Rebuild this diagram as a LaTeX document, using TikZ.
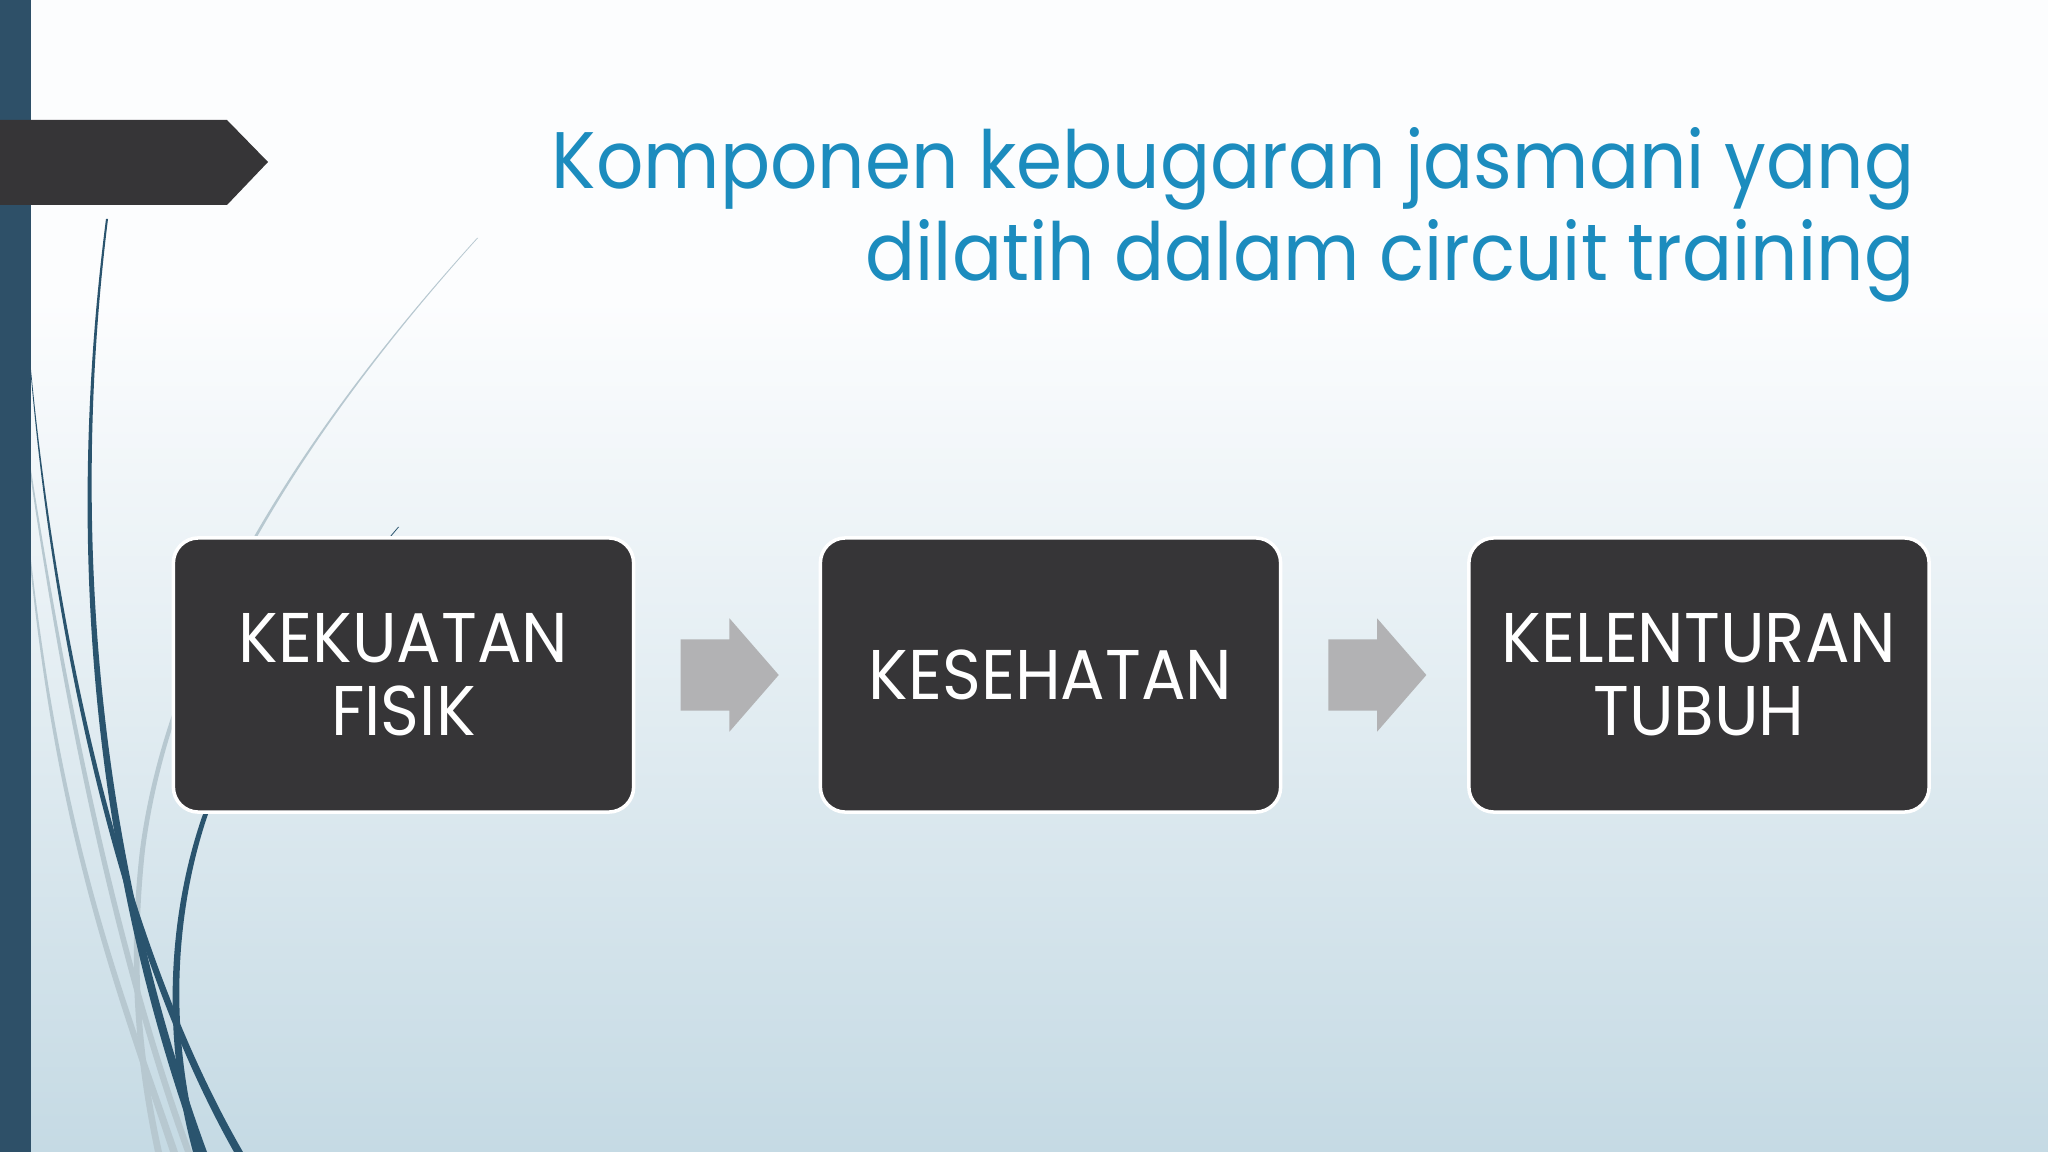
\documentclass[tikz,border=0pt]{standalone}
\usepackage{fontspec}
\setmainfont{Poppins}
\newfontfamily\titlefont{Poppins}[FakeStretch=0.925]
\newfontfamily\boxfont{Poppins}[FakeStretch=0.94]
\usetikzlibrary{shapes.arrows,calc}

\definecolor{bgtop}{RGB}{252,253,254}
\definecolor{bgmid}{RGB}{221,233,239}
\definecolor{bgbottom}{RGB}{197,218,228}
\definecolor{slidebar}{RGB}{46,80,104}
\definecolor{wispdark}{RGB}{42,84,110}
\definecolor{wisplight}{RGB}{183,200,208}
\definecolor{boxgray}{RGB}{54,53,55}
\definecolor{arrowgray}{RGB}{178,178,180}
\definecolor{titleblue}{RGB}{28,140,190}

\begin{document}
\begin{tikzpicture}[x=0.01cm,y=-0.01cm]
    \tikzstyle{stepbox}=[rectangle, rounded corners=0.25cm, fill=boxgray, draw=white, line width=1pt, minimum width=4.6cm, minimum height=2.74cm, text=white, align=center, font=\boxfont\fontsize{20}{20.8}\selectfont]
    \tikzstyle{flow}=[single arrow, fill=arrowgray, inner xsep=0pt, inner ysep=0.35cm, minimum height=0.98cm, single arrow head extend=0.21cm, single arrow tip angle=98]
    \tikzstyle{heading}=[anchor=base east, inner sep=0pt, text=titleblue, font=\titlefont\fontsize{22.8}{26}\selectfont]

    \useasboundingbox (0,0) rectangle (2048,1152);
    \fill[bgtop] (0,0) rectangle (2048,300);
    \shade[top color=bgtop, middle color=bgmid, bottom color=bgbottom] (0,300) rectangle (2048,1152);

    \tikzstyle{wisp}=[fill=wisplight]
    \fill[wisp] (477,238) .. controls (330,400) and (170,620) .. (140,850) .. controls (125,980) and (140,1080) .. (155,1152) -- (162,1152) .. controls (146,1080) and (131,980) .. (145,850) .. controls (174,620) and (332,400) .. (478,238) -- cycle;
    \fill[wisp] (31,573) .. controls (60,850) and (120,1000) .. (170,1152) -- (178,1152) .. controls (126,1000) and (64,850) .. (31,560) -- cycle;
    \fill[wisp] (31,480) .. controls (75,780) and (130,1000) .. (185,1152) -- (192,1152) .. controls (136,1000) and (80,780) .. (31,470) -- cycle;

    \tikzstyle{wisp}=[fill=wispdark]
    \fill[wisp] (31,377) .. controls (55,650) and (120,950) .. (234,1152) -- (243,1152) .. controls (126,950) and (58,650) .. (31,370) -- cycle;
    \fill[wisp] (106,219) .. controls (75,460) and (70,800) .. (198,1152) -- (207,1152) .. controls (78,800) and (78,460) .. (108,219) -- cycle;
    \fill[wisp] (398,527) .. controls (310,630) and (232,740) .. (202,817) .. controls (170,910) and (160,1030) .. (193,1152) -- (201,1152) .. controls (167,1030) and (176,910) .. (207,817) .. controls (236,740) and (312,630) .. (399,527) -- cycle;

    \fill[slidebar] (0,0) rectangle (31,1152);
    \fill[boxgray] (0,120) -- (227,120) -- (268,162) -- (227,205) -- (0,205) -- cycle;

    \node[heading] (title1) at (1915,189) {Komponen kebugaran jasmani yang};
    \node[heading] (title2) at (1915,281) {dilatih dalam circuit training};

    \node[stepbox] (kekuatan) at (403.5,675) {KEKUATAN\\FISIK};
    \node[stepbox] (kesehatan) at (1050.5,675) {KESEHATAN};
    \node[stepbox] (kelenturan) at (1699,675) {KELENTURAN\\TUBUH};

    \node[flow] (flow1) at ($(kekuatan.east)!0.43!(kesehatan.west)$) {};
    \node[flow] (flow2) at ($(kesehatan.east)!0.43!(kelenturan.west)$) {};
\end{tikzpicture}
\end{document}
